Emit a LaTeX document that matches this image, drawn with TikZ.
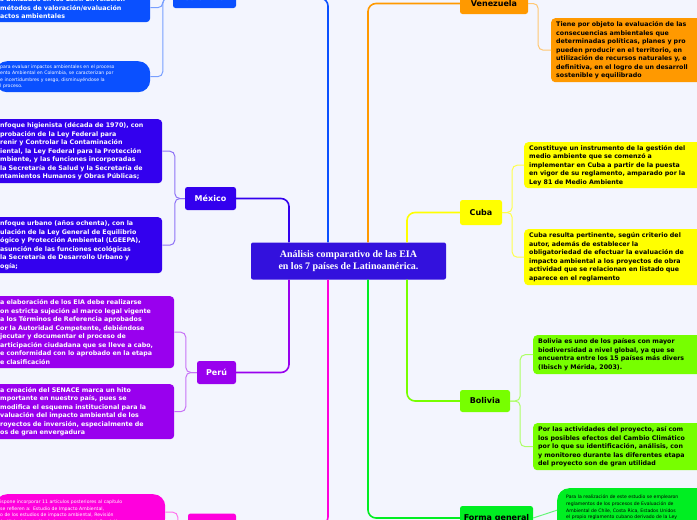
\documentclass[tikz,border=0pt]{standalone}
\usepackage{fontspec}
\setmainfont{DejaVu Sans}
\newfontfamily\titlefont{Liberation Serif}
\definecolor{bg}{HTML}{F3F5FE}
\definecolor{ccol}{HTML}{0A50FF}
\definecolor{cmex}{HTML}{3300EE}
\definecolor{cper}{HTML}{9900EE}
\definecolor{cmag}{HTML}{FF00DD}
\definecolor{cven}{HTML}{FF9900}
\definecolor{ccub}{HTML}{FFFF00}
\definecolor{cbol}{HTML}{77FF00}
\definecolor{cfor}{HTML}{00EE22}
\definecolor{ccen}{HTML}{3311DD}
\tikzset{
 country/.style={rectangle,rounded corners=2.5,inner sep=0,font=\bfseries\fontsize{8}{9}\selectfont},
 leaf/.style={rectangle,rounded corners=4,inner xsep=5,inner ysep=0,anchor=north west,align=left,font=\bfseries\fontsize{6.3}{8.5}\selectfont},
 small/.style={font=\fontsize{4.6}{6.6}\selectfont},
 main/.style={line width=1.6pt,rounded corners=8},
 sub/.style={line width=1pt,rounded corners=5},
}
\begin{document}
\begin{tikzpicture}[x=1pt,y=-1pt]
\fill[bg] (0,0) rectangle (697,520);
\useasboundingbox (0,0) rectangle (697,520);
\clip (0,0) rectangle (697,520);
% centre
\node[rectangle,rounded corners=2,fill=ccen,text=white,minimum width=195,minimum height=37,align=center,font=\titlefont\bfseries\fontsize{10}{12.5}\selectfont] (cen) at (348.5,261) {Análisis comparativo de las EIA\\en los 7 países de Latinoamérica.};
% countries
\node[country,fill=ccol,text=white,minimum width=63,minimum height=20] (col) at (204.5,-2) {Colombia};
\node[country,fill=cmex,text=white,minimum width=51,minimum height=23] (mex) at (210.5,198.5) {México};
\node[country,fill=cper,text=white,minimum width=39,minimum height=23] (per) at (216.5,372.5) {Perú};
\node[country,fill=cmag,text=white,minimum width=48,minimum height=23] (mag) at (212,525) {};
\node[country,fill=cven,text=black,minimum width=68,minimum height=21] (ven) at (494,3.5) {Venezuela};
\node[country,fill=ccub,text=black,minimum width=42,minimum height=25] (cub) at (481,212.5) {Cuba};
\node[country,fill=cbol,text=black,minimum width=50,minimum height=22] (bol) at (485,401) {Bolivia};
\node[country,fill=cfor,text=black,minimum width=73,minimum height=24] (for) at (496.5,518) {Forma general};
% main connectors
\draw[main,cmex] ([xshift=-59.5]cen.north) |- (mex.east);
\draw[main,ccol] ([xshift=-20.5]cen.north) |- (col.east);
\draw[main,cven] ([xshift=19.5]cen.north) |- (ven.west);
\draw[main,ccub] ([xshift=58.5]cen.north) |- (cub.west);
\draw[main,cper] ([xshift=-59.5]cen.south) |- (per.east);
\draw[main,cmag] ([xshift=-20.5]cen.south) |- (mag.east);
\draw[main,cfor] ([xshift=19.5]cen.south) |- (for.west);
\draw[main,cbol] ([xshift=58.5]cen.south) |- (bol.west);
% leaves left
\node[leaf,fill=ccol,text=white,minimum width=155,minimum height=29,text width=145] (c1) at (-5,-7) {s utilizados en los EsIA. En relación\\ métodos de valoración/evaluación\\actos ambientales};
\node[leaf,fill=ccol,text=white,minimum width=155,minimum height=31,text width=145,rounded corners=12,small] (c2) at (-5,61) {para evaluar impactos ambientales en el proceso\\ento Ambiental en Colombia, se caracterizan por\\e incertidumbres y sesgo, disminuyéndose la\\l proceso.};
\node[leaf,fill=cmex,text=white,minimum width=167,minimum height=64,text width=157] (m1) at (-5,119) {nfoque higienista (década de 1970), con\\probación de la Ley Federal para\\renir y Controlar la Contaminación\\iental, la Ley Federal para la Protección\\mbiente, y las funciones incorporadas\\la Secretaría de Salud y la Secretaría de\\ntamientos Humanos y Obras Públicas;};
\node[leaf,fill=cmex,text=white,minimum width=167,minimum height=56,text width=157] (m2) at (-5,217) {nfoque urbano (años ochenta), con la\\ulación de la Ley General de Equilibrio\\ógico y Protección Ambiental (LGEEPA),\\asunción de las funciones ecológicas\\la Secretaría de Desarrollo Urbano y\\ogía;};
\node[leaf,fill=cper,text=white,minimum width=179,minimum height=72,text width=169] (p1) at (-5,296) {a elaboración de los EIA debe realizarse\\on estricta sujeción al marco legal vigente\\ a los Términos de Referencia aprobados\\or la Autoridad Competente, debiéndose\\jecutar y documentar el proceso de\\articipación ciudadana que se lleve a cabo,\\e conformidad con lo aprobado en la etapa\\e clasificación};
\node[leaf,fill=cper,text=white,minimum width=179,minimum height=55,text width=169] (p2) at (-5,384) {a creación del SENACE marca un hito\\mportante en nuestro país, pues se\\modifica el esquema institucional para la\\valuación del impacto ambiental de los\\royectos de inversión, especialmente de\\os de gran envergadura};
\node[leaf,fill=cmag,text=white,minimum width=170,minimum height=36,text width=160,rounded corners=12,small] (g1) at (-5,494) {ispone incorporar 11 artículos posteriores al capítulo\\ se refieren a: Estudio de Impacto Ambiental,\\o de los estudios de impacto ambiental, Revisión\\ Análisis del estudio de impacto ambiental, Remisión};
% leaves right
\node[leaf,fill=cven,text=black,minimum width=160,minimum height=64,text width=150] (v1) at (551,18) {Tiene por objeto la evaluación de las\\consecuencias ambientales que\\determinadas políticas, planes y pro\\pueden producir en el territorio, en\\utilización de recursos naturales y, e\\definitiva, en el logro de un desarroll\\sostenible y equilibrado};
\node[leaf,fill=ccub,text=black,minimum width=186,minimum height=46,text width=176] (k1) at (524,142) {Constituye un instrumento de la gestión del\\medio ambiente que se comenzó a\\implementar en Cuba a partir de la puesta\\en vigor de su reglamento, amparado por la\\Ley 81 de Medio Ambiente};
\node[leaf,fill=ccub,text=black,minimum width=186,minimum height=56,text width=176] (k2) at (524,229) {Cuba resulta pertinente, según criterio del\\autor, además de establecer la\\obligatoriedad de efectuar la evaluación de\\impacto ambiental a los proyectos de obra\\actividad que se relacionan en listado que\\aparece en el reglamento};
\node[leaf,fill=cbol,text=black,minimum width=177,minimum height=39,text width=167] (b1) at (533,335) {Bolivia es uno de los países con mayor\\biodiversidad a nivel global, ya que se\\encuentra entre los 15 países más divers\\(Ibisch y Mérida, 2003).};
\node[leaf,fill=cbol,text=black,minimum width=177,minimum height=47,text width=167] (b2) at (533,423) {Por las actividades del proyecto, así com\\los posibles efectos del Cambio Climático\\por lo que su identificación, análisis, con\\y monitoreo durante las diferentes etapa\\del proyecto son de gran utilidad};
\node[leaf,fill=cfor,text=black,minimum width=153,minimum height=44,text width=135,inner xsep=9,rounded corners=12,small,anchor=north west] (f1) at (557,488) {Para la realización de este estudio se emplearon\\reglamentos de los procesos de Evaluación de\\Ambiental de Chile, Costa Rica, Estados Unidos\\el propio reglamento cubano derivado de la Ley\\Ambiental};
% sub connectors
\draw[sub,ccol!55] (col.west) -- ++(-10,0) |- (c1.east);
\draw[sub,ccol!55] (col.west) -- ++(-10,0) |- (c2.east);
\draw[sub,cmex!55] (mex.west) -- ++(-10,0) |- (m1.east);
\draw[sub,cmex!55] (mex.west) -- ++(-10,0) |- (m2.east);
\draw[sub,cper!55] (per.west) -- ++(-11,0) |- (p1.east);
\draw[sub,cper!55] (per.west) -- ++(-11,0) |- (p2.east);
\draw[sub,cmag!55] (mag.west) -- ++(-10,0) |- (g1.east);
\draw[sub,cven!55] (ven.east) -- ++(10,0) |- (v1.west);
\draw[sub,ccub!70] (cub.east) -- ++(10,0) |- (k1.west);
\draw[sub,ccub!70] (cub.east) -- ++(10,0) |- (k2.west);
\draw[sub,cbol!60] (bol.east) -- ++(10,0) |- (b1.west);
\draw[sub,cbol!60] (bol.east) -- ++(10,0) |- (b2.west);
\draw[sub,cfor!60] (for.east) -- (f1.west);
\end{tikzpicture}
\end{document}
